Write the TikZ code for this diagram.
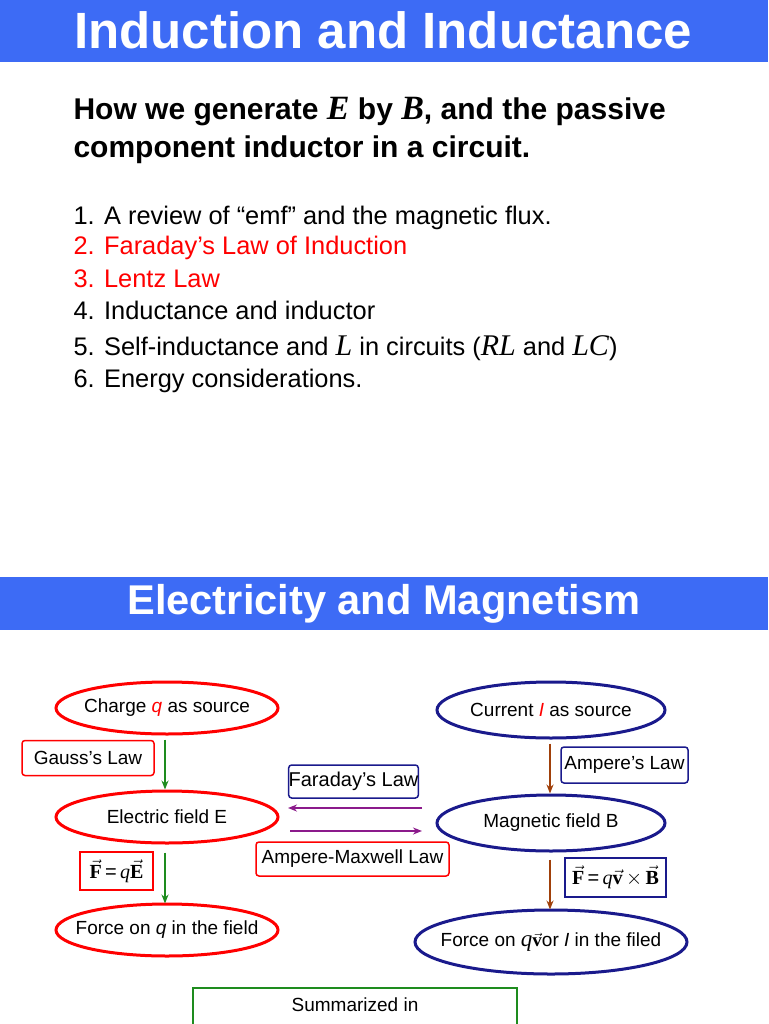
\documentclass[tikz,border=0pt]{standalone}
\usepackage{fontspec}
\setmainfont{Liberation Sans}
\newfontfamily\tms{Liberation Serif}
\usetikzlibrary{shapes.geometric,arrows.meta}
\definecolor{barblue}{HTML}{3D6BF5}
\definecolor{dblue}{HTML}{1A1A8C}
\definecolor{dgreen}{HTML}{1E8C1E}
\definecolor{brownc}{HTML}{A0400A}
\definecolor{purp}{HTML}{8B1A8B}
\newcommand{\bv}[1]{$\vec{\hbox{\tms\bfseries #1}}$}
\tikzset{
 ell/.style={ellipse,draw,line width=3pt,minimum width=#1,inner ysep=0pt,inner xsep=-40pt},
 rell/.style={ell=222pt,draw=red,minimum height=52pt},
 bell/.style={ell=228pt,draw=dblue,minimum height=56pt},
 lbox/.style={draw,rounded corners=3pt,line width=1.5pt,inner sep=0pt},
 arr/.style={line width=1.8pt,-{Stealth[length=9pt,width=7pt]}},
 txt/.style={font=\fontsize{19}{22}\selectfont},
 item/.style={anchor=west,font=\fontsize{25.4}{28}\selectfont}
}
\begin{document}
\begin{tikzpicture}[x=1pt,y=-1pt]
\useasboundingbox (0,0) rectangle (768,1024);
\clip (0,0) rectangle (768,1024);
\fill[barblue] (0,0) rectangle (768,62);
\node[white,font=\fontsize{51}{54}\selectfont\bfseries] (t1) at (383,30) {Induction and Inductance};
\node[anchor=west,font=\fontsize{30}{32}\selectfont\bfseries] (s1) at (70,112) {How we generate {\tms\itshape\fontsize{34}{30}\selectfont E} by {\tms\itshape\fontsize{34}{30}\selectfont B}, and the passive};
\node[anchor=west,font=\fontsize{30}{32}\selectfont\bfseries] (s2) at (70,150) {component inductor in a circuit.};
\node[item] (i1) at (70,218) {1. A review of “emf” and the magnetic flux.};
\node[item,red] (i2) at (70,248) {2. Faraday’s Law of Induction};
\node[item,red] (i3) at (70,279) {3. Lentz Law};
\node[item] (i4) at (70,310) {4. Inductance and inductor};
\node[item] (i5) at (70,348) {5. Self-inductance and {\tms\itshape\fontsize{30}{26}\selectfont L} in circuits ({\tms\itshape\fontsize{30}{26}\selectfont RL} and {\tms\itshape\fontsize{30}{26}\selectfont LC})};
\node[item] (i6) at (70,381) {6. Energy considerations.};
\fill[barblue] (0,577) rectangle (768,630);
\node[white,font=\fontsize{41.6}{44}\selectfont\bfseries] (t2) at (384,604) {Electricity and Magnetism};
\node[rell,txt] (cq) at (167,708) {Charge {\color{red}\itshape q} as source};
\node[rell,txt] (ef) at (167,817) {Electric field E};
\node[rell,txt] (fq) at (167,930) {Force on {\itshape q} in the field};
\node[bell,txt] (ci) at (551,710) {Current {\color{red}\itshape I} as source};
\node[bell,txt] (mb) at (551,823) {Magnetic field B};
\node[ell=272pt,draw=dblue,minimum height=64pt,txt,inner xsep=-60pt] (fv) at (551,942) {Force on {\tms\itshape\fontsize{23}{20}\selectfont q}\bv{v}or {\itshape I} in the filed};
\node[lbox,draw=red,txt,minimum width=132pt,minimum height=35pt] (gl) at (88,758) {Gauss’s Law};
\node[draw=red,line width=2.6pt,minimum width=73pt,minimum height=38pt,inner sep=0pt,font=\fontsize{20}{20}\selectfont] (fe) at (116.5,871) {\bv{F}\,=\,{\tms\itshape q}\bv{E}};
\node[lbox,draw=dblue,font=\fontsize{20}{22}\selectfont,minimum width=129pt,minimum height=33pt] (fl) at (353.5,781.5) {Faraday’s Law};
\node[lbox,draw=red,txt,minimum width=193pt,minimum height=34pt] (am) at (352.5,859) {Ampere-Maxwell Law};
\node[lbox,draw=dblue,txt,minimum width=127pt,minimum height=36pt] (al) at (624.5,765) {Ampere’s Law};
\node[draw=dblue,line width=2.6pt,minimum width=101pt,minimum height=39pt,inner sep=0pt,font=\fontsize{20}{20}\selectfont] (fb) at (615.5,877.5) {\bv{F}\,=\,{\tms\itshape q}\bv{v}\,$\times$\,\bv{B}};
\draw[arr,dgreen] (cq.south) ++(-2,4) coordinate (a1) -- (ef.north -| a1);
\draw[arr,dgreen] (ef.south) ++(-2,8) coordinate (a2) -- ([yshift=-1pt]fq.north -| a2);
\draw[arr,brownc] (ci.south) ++(-1,4) coordinate (a3) -- (mb.north -| a3);
\draw[arr,brownc] (mb.south) ++(-1,7) coordinate (a4) -- ([yshift=-1pt]fv.north -| a4);
\coordinate (p1) at (422,808); \coordinate (p2) at (288,808);
\coordinate (p3) at (290,831); \coordinate (p4) at (422,831);
\draw[arr,purp] (p1) -- (p2);
\draw[arr,purp] (p3) -- (p4);
\draw[dgreen,line width=2pt] (193,1040) -- (193,988) -- (517,988) -- (517,1040);
\node[txt] (su) at (355,1005) {Summarized in};
\end{tikzpicture}
\end{document}
